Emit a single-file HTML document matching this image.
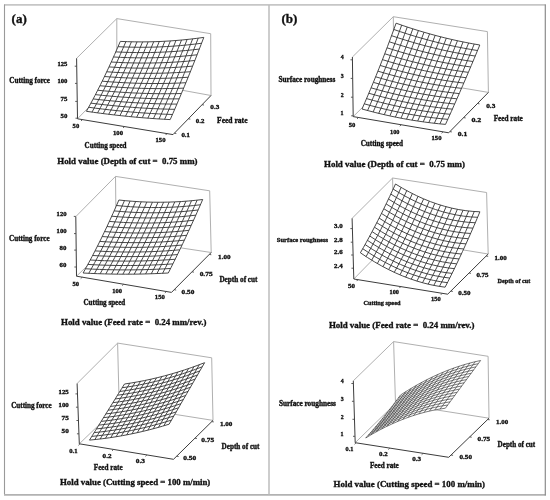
<!DOCTYPE html>
<html><head><meta charset="utf-8"><title>Figure</title>
<style>
html,body{margin:0;padding:0;background:#fff;}
body{width:550px;height:500px;overflow:hidden;position:relative;}
svg{position:absolute;left:0;top:0;display:block;}
text{font-family:"Liberation Serif","DejaVu Serif",serif;font-weight:bold;fill:#111;stroke:#111;stroke-width:0.34px;}
</style></head><body>
<svg width="550" height="500" viewBox="0 0 550 500">
<rect x="0" y="0" width="550" height="500" fill="#fff"/>
<path d="M4 4.9 L545.8 4.9" fill="none" stroke="#c6c6c6" stroke-width="1.6"/>
<path d="M4.5 4.4 L4.5 494.5" fill="none" stroke="#9a9a9a" stroke-width="1.1"/>
<path d="M4 494.9 L545.8 494.9" fill="none" stroke="#b2b2b2" stroke-width="1.6"/>
<path d="M545.3 4.4 L545.3 495.4" fill="none" stroke="#8c8c8c" stroke-width="1.2"/>
<path d="M269 5 L269 494.5" fill="none" stroke="#bdbdbd" stroke-width="1.5"/>
<path d="M76.60 58.30 L116.80 18.60 M116.80 18.60 L210.70 33.70 M210.70 33.70 L211.00 95.50 M116.80 18.60 L116.80 78.30 M116.80 78.30 L211.00 95.50 M116.80 78.30 L77.50 118.80" fill="none" stroke="#b0b0b0" stroke-width="1"/><path d="M211.00 95.50 L173.00 134.60 M173.00 134.60 L77.50 118.80 M77.50 118.80 L76.60 58.30" fill="none" stroke="#3c3c3c" stroke-width="1"/><path d="M74.72 66.20 L76.72 66.20 M74.97 83.40 L76.97 83.40 M75.24 101.40 L77.24 101.40 M75.49 118.20 L77.49 118.20 M82.40 119.61 L81.01 121.05 M124.50 126.58 L123.11 128.01 M167.00 133.61 L165.61 135.04 M174.36 133.20 L176.33 133.53 M188.36 118.80 L190.33 119.13 M202.06 104.70 L204.03 105.03" fill="none" stroke="#4a4a4a" stroke-width="0.9"/>
<path d="M86.40 111.30 L93.38 112.30 L100.37 113.24 L107.35 114.12 L114.33 114.96 L121.32 115.73 L128.30 116.45 L135.28 117.11 L142.27 117.72 L149.25 118.27 L156.23 118.77 L163.22 119.21 L170.20 119.60 L173.00 113.21 L175.80 106.73 L178.60 100.17 L181.40 93.53 L184.20 86.81 L187.00 80.00 L189.80 73.11 L192.60 66.13 L195.40 59.08 L198.20 51.93 L201.00 44.71 L203.80 37.40 L196.84 38.34 L189.88 39.18 L182.93 39.90 L175.97 40.51 L169.01 41.01 L162.05 41.40 L155.09 41.68 L148.13 41.84 L141.18 41.90 L134.22 41.84 L127.26 41.68 L120.30 41.40 L117.47 47.99 L114.65 54.44 L111.82 60.75 L109.00 66.92 L106.17 72.96 L103.35 78.85 L100.53 84.61 L97.70 90.22 L94.88 95.70 L92.05 101.04 L89.23 106.24Z" fill="#fff" stroke="none"/><path d="M86.40 111.30 L89.22 106.24 L92.05 101.04 L94.88 95.70 L97.70 90.22 L100.53 84.61 L103.35 78.85 L106.17 72.96 L109.00 66.92 L111.82 60.75 L114.65 54.44 L117.47 47.99 L120.30 41.40 M86.40 111.30 L93.38 112.30 L100.37 113.24 L107.35 114.12 L114.33 114.96 L121.32 115.73 L128.30 116.45 L135.28 117.11 L142.27 117.72 L149.25 118.27 L156.23 118.77 L163.22 119.21 L170.20 119.60 M91.99 112.10 L94.81 106.97 L97.63 101.71 L100.46 96.31 L103.28 90.77 L106.10 85.10 L108.93 79.30 L111.75 73.36 L114.57 67.28 L117.40 61.07 L120.22 54.73 L123.04 48.25 L125.87 41.63 M88.66 107.26 L95.64 108.19 L102.62 109.06 L109.60 109.87 L116.59 110.62 L123.57 111.31 L130.55 111.94 L137.53 112.52 L144.51 113.03 L151.49 113.49 L158.48 113.88 L165.46 114.22 L172.44 114.49 M97.57 112.87 L100.40 107.67 L103.22 102.34 L106.04 96.87 L108.86 91.28 L111.68 85.55 L114.50 79.70 L117.33 73.71 L120.15 67.59 L122.97 61.34 L125.79 54.95 L128.61 48.44 L131.43 41.79 M90.92 103.14 L97.90 104.00 L104.88 104.80 L111.86 105.53 L118.84 106.21 L125.82 106.82 L132.80 107.37 L139.78 107.85 L146.76 108.27 L153.74 108.63 L160.72 108.93 L167.70 109.16 L174.68 109.33 M103.16 113.60 L105.98 108.33 L108.80 102.92 L111.62 97.39 L114.44 91.74 L117.26 85.95 L120.08 80.04 L122.90 74.00 L125.72 67.83 L128.54 61.54 L131.36 55.11 L134.18 48.56 L137.00 41.88 M93.18 98.92 L100.16 99.72 L107.14 100.45 L114.12 101.12 L121.09 101.72 L128.07 102.25 L135.05 102.72 L142.03 103.12 L149.01 103.45 L155.99 103.72 L162.96 103.92 L169.94 104.05 L176.92 104.12 M108.75 114.30 L111.56 108.94 L114.38 103.47 L117.20 97.87 L120.02 92.15 L122.84 86.30 L125.66 80.33 L128.48 74.23 L131.29 68.02 L134.11 61.67 L136.93 55.20 L139.75 48.61 L142.57 41.90 M95.44 94.62 L102.42 95.36 L109.39 96.03 L116.37 96.62 L123.35 97.15 L130.32 97.61 L137.30 98.00 L144.28 98.32 L151.25 98.57 L158.23 98.74 L165.21 98.85 L172.18 98.89 L179.16 98.85 M114.33 114.96 L117.15 109.52 L119.97 103.97 L122.78 98.30 L125.60 92.51 L128.42 86.60 L131.23 80.57 L134.05 74.41 L136.87 68.14 L139.68 61.75 L142.50 55.23 L145.32 48.60 L148.13 41.84 M97.70 90.22 L104.67 90.91 L111.65 91.51 L118.62 92.05 L125.60 92.51 L132.58 92.90 L139.55 93.21 L146.52 93.45 L153.50 93.61 L160.47 93.71 L167.45 93.72 L174.42 93.66 L181.40 93.53 M119.92 115.58 L122.73 110.07 L125.55 104.44 L128.36 98.69 L131.18 92.83 L133.99 86.85 L136.81 80.75 L139.62 74.54 L142.44 68.21 L145.25 61.76 L148.07 55.20 L150.88 48.52 L153.70 41.72 M99.96 85.74 L106.93 86.37 L113.91 86.92 L120.88 87.39 L127.85 87.79 L134.83 88.11 L141.80 88.35 L148.77 88.51 L155.75 88.60 L162.72 88.60 L169.69 88.53 L176.67 88.39 L183.64 88.16 M125.51 116.17 L128.32 110.57 L131.13 104.86 L133.95 99.03 L136.76 93.09 L139.57 87.04 L142.39 80.88 L145.20 74.60 L148.01 68.21 L150.83 61.71 L153.64 55.09 L156.45 48.37 L159.27 41.52 M102.22 81.17 L109.19 81.75 L116.16 82.24 L123.13 82.66 L130.11 82.99 L137.08 83.25 L144.05 83.42 L151.02 83.51 L157.99 83.52 L164.97 83.44 L171.94 83.29 L178.91 83.05 L185.88 82.73 M131.09 116.72 L133.91 111.03 L136.72 105.24 L139.53 99.33 L142.34 93.32 L145.15 87.19 L147.96 80.96 L150.78 74.61 L153.59 68.16 L156.40 61.60 L159.21 54.93 L162.02 48.15 L164.83 41.26 M104.48 76.51 L111.45 77.04 L118.42 77.48 L125.39 77.84 L132.36 78.12 L139.33 78.31 L146.30 78.41 L153.27 78.43 L160.24 78.37 L167.21 78.22 L174.18 77.98 L181.15 77.66 L188.12 77.25 M136.68 117.24 L139.49 111.46 L142.30 105.58 L145.11 99.58 L147.92 93.49 L150.73 87.29 L153.54 80.98 L156.35 74.57 L159.16 68.05 L161.97 61.42 L164.78 54.70 L167.59 47.86 L170.40 40.92 M106.74 71.76 L113.71 72.25 L120.68 72.64 L127.64 72.95 L134.61 73.17 L141.58 73.30 L148.55 73.34 L155.52 73.29 L162.49 73.16 L169.45 72.93 L176.42 72.62 L183.39 72.21 L190.36 71.72 M142.27 117.72 L145.07 111.85 L147.88 105.87 L150.69 99.79 L153.50 93.61 L156.31 87.33 L159.12 80.95 L161.93 74.46 L164.73 67.88 L167.54 61.19 L170.35 54.40 L173.16 47.51 L175.97 40.51 M109.00 66.92 L115.97 67.37 L122.93 67.72 L129.90 67.97 L136.87 68.14 L143.83 68.21 L150.80 68.19 L157.77 68.08 L164.73 67.88 L171.70 67.58 L178.67 67.19 L185.63 66.71 L192.60 66.13 M147.85 118.17 L150.66 112.20 L153.47 106.13 L156.27 99.96 L159.08 93.69 L161.89 87.33 L164.69 80.87 L167.50 74.31 L170.31 67.65 L173.11 60.89 L175.92 54.04 L178.73 47.08 L181.53 40.03 M111.26 62.00 L118.22 62.40 L125.19 62.71 L132.16 62.92 L139.12 63.04 L146.08 63.05 L153.05 62.98 L160.01 62.80 L166.98 62.53 L173.94 62.17 L180.91 61.71 L187.87 61.15 L194.84 60.49 M153.44 118.58 L156.25 112.51 L159.05 106.34 L161.85 100.08 L164.66 93.72 L167.47 87.27 L170.27 80.73 L173.08 74.09 L175.88 67.36 L178.69 60.53 L181.49 53.61 L184.30 46.59 L187.10 39.48 M113.52 56.98 L120.48 57.35 L127.45 57.62 L134.41 57.78 L141.37 57.85 L148.34 57.82 L155.30 57.69 L162.26 57.46 L169.23 57.13 L176.19 56.69 L183.15 56.16 L190.12 55.53 L197.08 54.80 M159.03 118.96 L161.83 112.78 L164.63 106.51 L167.44 100.16 L170.24 93.71 L173.04 87.17 L175.85 80.54 L178.65 73.82 L181.45 67.01 L184.26 60.11 L187.06 53.11 L189.86 46.03 L192.67 38.86 M115.78 51.88 L122.74 52.21 L129.70 52.44 L136.67 52.57 L143.63 52.59 L150.59 52.51 L157.55 52.33 L164.51 52.04 L171.47 51.65 L178.44 51.16 L185.40 50.56 L192.36 49.86 L199.32 49.05 M164.61 119.30 L167.41 113.01 L170.22 106.64 L173.02 100.19 L175.82 93.64 L178.62 87.01 L181.42 80.30 L184.23 73.49 L187.03 66.60 L189.83 59.62 L192.63 52.56 L195.43 45.40 L198.23 38.16 M118.04 46.68 L125.00 46.99 L131.96 47.18 L138.92 47.27 L145.88 47.26 L152.84 47.13 L159.80 46.90 L166.76 46.56 L173.72 46.11 L180.68 45.56 L187.64 44.90 L194.60 44.13 L201.56 43.25 M170.20 119.60 L173.00 113.21 L175.80 106.73 L178.60 100.17 L181.40 93.53 L184.20 86.81 L187.00 80.00 L189.80 73.11 L192.60 66.13 L195.40 59.08 L198.20 51.93 L201.00 44.71 L203.80 37.40 M120.30 41.40 L127.26 41.68 L134.22 41.84 L141.18 41.90 L148.13 41.84 L155.09 41.68 L162.05 41.40 L169.01 41.01 L175.97 40.51 L182.93 39.90 L189.88 39.18 L196.84 38.34 L203.80 37.40" fill="none" stroke="#333333" stroke-width="0.9"/>
<text x="11.60" y="22.96" font-size="13.2" textLength="15.20" lengthAdjust="spacingAndGlyphs">(a)</text>
<text x="57.40" y="65.81" font-size="6.7" textLength="10.00" lengthAdjust="spacingAndGlyphs">125</text>
<text x="57.40" y="83.01" font-size="6.7" textLength="10.00" lengthAdjust="spacingAndGlyphs">100</text>
<text x="60.60" y="101.01" font-size="6.7" textLength="6.80" lengthAdjust="spacingAndGlyphs">75</text>
<text x="60.60" y="117.81" font-size="6.7" textLength="6.80" lengthAdjust="spacingAndGlyphs">50</text>
<text x="9.30" y="83.21" font-size="7.3" textLength="40.70" lengthAdjust="spacingAndGlyphs">Cutting force</text>
<text x="72.60" y="127.91" font-size="6.7" textLength="6.60" lengthAdjust="spacingAndGlyphs">50</text>
<text x="113.00" y="135.41" font-size="6.7" textLength="10.00" lengthAdjust="spacingAndGlyphs">100</text>
<text x="155.50" y="141.51" font-size="6.7" textLength="10.00" lengthAdjust="spacingAndGlyphs">150</text>
<text x="84.60" y="147.81" font-size="7.3" textLength="41.90" lengthAdjust="spacingAndGlyphs">Cutting speed</text>
<text x="181.40" y="137.41" font-size="6.7" textLength="8.60" lengthAdjust="spacingAndGlyphs">0.1</text>
<text x="195.80" y="123.01" font-size="6.7" textLength="8.60" lengthAdjust="spacingAndGlyphs">0.2</text>
<text x="210.30" y="108.91" font-size="6.7" textLength="9.00" lengthAdjust="spacingAndGlyphs">0.3</text>
<text x="217.00" y="122.81" font-size="7.3" textLength="30.50" lengthAdjust="spacingAndGlyphs">Feed rate</text>
<text x="57.30" y="163.54" font-size="8.9" textLength="140.20" lengthAdjust="spacingAndGlyphs">Hold value (Depth of cut =&#160; 0.75 mm)</text>
<path d="M75.80 216.60 L115.50 176.40 M115.50 176.40 L209.70 190.80 M209.70 190.80 L211.20 252.50 M115.50 176.40 L116.20 238.00 M116.20 238.00 L211.20 252.50 M116.20 238.00 L76.50 276.20" fill="none" stroke="#b0b0b0" stroke-width="1"/><path d="M211.20 252.50 L171.50 292.40 M171.50 292.40 L76.50 276.20 M76.50 276.20 L75.80 216.60" fill="none" stroke="#3c3c3c" stroke-width="1"/><path d="M73.80 216.40 L75.80 216.40 M74.00 233.60 L76.00 233.60 M74.19 250.10 L76.19 250.10 M74.39 267.00 L76.39 267.00 M82.20 277.17 L80.76 278.56 M123.60 284.23 L122.16 285.62 M166.30 291.51 L164.86 292.90 M174.19 289.70 L176.16 290.04 M192.00 271.80 L193.97 272.14 M209.31 254.40 L211.28 254.74" fill="none" stroke="#4a4a4a" stroke-width="0.9"/>
<path d="M83.10 273.00 L90.20 273.37 L97.30 273.67 L104.40 273.90 L111.50 274.07 L118.60 274.17 L125.70 274.20 L132.80 274.17 L139.90 274.07 L147.00 273.90 L154.10 273.67 L161.20 273.37 L168.30 273.00 L171.17 267.33 L174.03 261.58 L176.90 255.75 L179.77 249.83 L182.63 243.83 L185.50 237.75 L188.37 231.58 L191.23 225.33 L194.10 219.00 L196.97 212.58 L199.83 206.08 L202.70 199.50 L195.72 200.31 L188.73 200.97 L181.75 201.50 L174.77 201.89 L167.78 202.14 L160.80 202.25 L153.82 202.22 L146.83 202.06 L139.85 201.75 L132.87 201.31 L125.88 200.72 L118.90 200.00 L115.92 206.85 L112.93 213.56 L109.95 220.12 L106.97 226.56 L103.98 232.85 L101.00 239.00 L98.02 245.01 L95.03 250.89 L92.05 256.62 L89.07 262.22 L86.08 267.68Z" fill="#fff" stroke="none"/><path d="M83.10 273.00 L86.08 267.68 L89.07 262.22 L92.05 256.62 L95.03 250.89 L98.02 245.01 L101.00 239.00 L103.98 232.85 L106.97 226.56 L109.95 220.12 L112.93 213.56 L115.92 206.85 L118.90 200.00 M83.10 273.00 L90.20 273.37 L97.30 273.67 L104.40 273.90 L111.50 274.07 L118.60 274.17 L125.70 274.20 L132.80 274.17 L139.90 274.07 L147.00 273.90 L154.10 273.67 L161.20 273.37 L168.30 273.00 M88.78 273.30 L91.76 267.98 L94.73 262.53 L97.71 256.95 L100.68 251.23 L103.66 245.37 L106.63 239.38 L109.61 233.25 L112.58 226.99 L115.56 220.59 L118.54 214.06 L121.51 207.39 L124.49 200.59 M85.49 268.76 L92.58 269.13 L99.67 269.42 L106.76 269.65 L113.86 269.81 L120.95 269.89 L128.04 269.90 L135.13 269.84 L142.22 269.71 L149.32 269.51 L156.41 269.24 L163.50 268.89 L170.59 268.47 M94.46 273.55 L97.43 268.24 L100.40 262.79 L103.36 257.21 L106.33 251.50 L109.30 245.66 L112.27 239.69 L115.23 233.58 L118.20 227.35 L121.17 220.98 L124.14 214.48 L127.11 207.85 L130.07 201.09 M87.87 264.42 L94.96 264.80 L102.04 265.10 L109.13 265.32 L116.21 265.47 L123.30 265.54 L130.38 265.53 L137.46 265.45 L144.55 265.29 L151.63 265.06 L158.72 264.74 L165.80 264.36 L172.89 263.89 M100.14 273.77 L103.10 268.45 L106.06 263.00 L109.02 257.43 L111.98 251.72 L114.94 245.89 L117.90 239.93 L120.86 233.85 L123.82 227.63 L126.78 221.29 L129.74 214.82 L132.70 208.23 L135.66 201.50 M90.26 260.00 L97.34 260.38 L104.41 260.69 L111.49 260.91 L118.57 261.05 L125.64 261.11 L132.72 261.09 L139.80 260.99 L146.87 260.80 L153.95 260.54 L161.03 260.19 L168.10 259.77 L175.18 259.26 M105.82 273.94 L108.77 268.61 L111.72 263.16 L114.68 257.58 L117.63 251.89 L120.58 246.06 L123.53 240.11 L126.49 234.04 L129.44 227.85 L132.39 221.53 L135.34 215.08 L138.29 208.51 L141.25 201.82 M92.65 255.49 L99.72 255.89 L106.78 256.20 L113.85 256.42 L120.92 256.56 L127.99 256.61 L135.06 256.58 L142.13 256.46 L149.20 256.25 L156.27 255.96 L163.34 255.59 L170.40 255.12 L177.47 254.57 M111.50 274.07 L114.44 268.73 L117.39 263.27 L120.33 257.69 L123.28 251.99 L126.22 246.17 L129.17 240.23 L132.11 234.17 L135.06 227.99 L138.00 221.68 L140.94 215.26 L143.89 208.72 L146.83 202.06 M95.03 250.89 L102.09 251.30 L109.16 251.62 L116.22 251.85 L123.28 251.99 L130.34 252.04 L137.40 251.99 L144.46 251.86 L151.52 251.64 L158.58 251.32 L165.64 250.92 L172.71 250.42 L179.77 249.83 M117.18 274.15 L120.12 268.80 L123.05 263.33 L125.99 257.74 L128.93 252.03 L131.86 246.21 L134.80 240.28 L137.74 234.22 L140.67 228.05 L143.61 221.76 L146.55 215.36 L149.48 208.84 L152.42 202.20 M97.42 246.20 L104.47 246.63 L111.53 246.96 L118.58 247.20 L125.63 247.34 L132.69 247.39 L139.74 247.34 L146.79 247.20 L153.85 246.96 L160.90 246.62 L167.95 246.19 L175.01 245.66 L182.06 245.04 M122.86 274.19 L125.79 268.82 L128.72 263.33 L131.65 257.73 L134.58 252.02 L137.50 246.20 L140.43 240.26 L143.36 234.21 L146.29 228.04 L149.22 221.77 L152.15 215.38 L155.08 208.87 L158.01 202.26 M99.81 241.42 L106.85 241.87 L113.90 242.22 L120.94 242.47 L127.99 242.62 L135.03 242.67 L142.08 242.61 L149.13 242.46 L156.17 242.21 L163.22 241.86 L170.26 241.40 L177.31 240.85 L184.35 240.19 M128.54 274.19 L131.46 268.80 L134.38 263.29 L137.30 257.68 L140.22 251.95 L143.15 246.12 L146.07 240.18 L148.99 234.12 L151.91 227.96 L154.83 221.69 L157.75 215.31 L160.67 208.82 L163.59 202.22 M102.19 236.56 L109.23 237.03 L116.27 237.40 L123.31 237.66 L130.34 237.82 L137.38 237.87 L144.42 237.82 L151.46 237.66 L158.50 237.40 L165.53 237.03 L172.57 236.56 L179.61 235.98 L186.65 235.29 M134.22 274.15 L137.13 268.73 L140.05 263.20 L142.96 257.56 L145.87 251.82 L148.79 245.98 L151.70 240.03 L154.61 233.97 L157.53 227.81 L160.44 221.54 L163.35 215.16 L166.27 208.68 L169.18 202.10 M104.58 231.60 L111.61 232.10 L118.64 232.49 L125.67 232.77 L132.70 232.94 L139.73 233.00 L146.76 232.95 L153.79 232.79 L160.82 232.52 L167.85 232.14 L174.88 231.65 L181.91 231.05 L188.94 230.34 M139.90 274.07 L142.81 268.61 L145.71 263.06 L148.62 257.40 L151.52 251.64 L154.43 245.77 L157.33 239.81 L160.24 233.75 L163.14 227.58 L166.05 221.31 L168.96 214.94 L171.86 208.46 L174.77 201.89 M106.97 226.56 L113.99 227.09 L121.01 227.50 L128.03 227.80 L135.06 227.99 L142.08 228.06 L149.10 228.01 L156.12 227.85 L163.14 227.58 L170.17 227.19 L177.19 226.69 L184.21 226.07 L191.23 225.33 M145.58 273.94 L148.48 268.45 L151.38 262.86 L154.27 257.18 L157.17 251.39 L160.07 245.51 L162.97 239.53 L165.86 233.45 L168.76 227.28 L171.66 221.00 L174.56 214.63 L177.46 208.16 L180.35 201.59 M109.35 221.42 L116.37 221.98 L123.38 222.43 L130.40 222.75 L137.41 222.95 L144.43 223.04 L151.44 223.00 L158.45 222.85 L165.47 222.57 L172.48 222.18 L179.50 221.66 L186.51 221.03 L193.53 220.27 M151.26 273.77 L154.15 268.24 L157.04 262.62 L159.93 256.90 L162.82 251.09 L165.71 245.18 L168.60 239.18 L171.49 233.09 L174.38 226.90 L177.27 220.62 L180.16 214.24 L183.05 207.77 L185.94 201.20 M111.74 216.20 L118.75 216.80 L125.75 217.27 L132.76 217.62 L139.77 217.84 L146.77 217.94 L153.78 217.92 L160.79 217.77 L167.79 217.50 L174.80 217.10 L181.81 216.58 L188.81 215.93 L195.82 215.16 M156.94 273.55 L159.82 267.98 L162.70 262.32 L165.59 256.57 L168.47 250.73 L171.35 244.80 L174.23 238.77 L177.12 232.66 L180.00 226.45 L182.88 220.16 L185.76 213.77 L188.64 207.29 L191.53 200.72 M114.13 210.89 L121.13 211.53 L128.12 212.03 L135.12 212.41 L142.12 212.66 L149.12 212.78 L156.12 212.77 L163.12 212.63 L170.12 212.36 L177.12 211.96 L184.12 211.44 L191.11 210.78 L198.11 209.99 M162.62 273.30 L165.49 267.68 L168.37 261.98 L171.24 256.19 L174.12 250.31 L176.99 244.35 L179.87 238.29 L182.74 232.16 L185.62 225.93 L188.49 219.62 L191.36 213.22 L194.24 206.73 L197.11 200.16 M116.51 205.49 L123.50 206.17 L130.50 206.71 L137.49 207.12 L144.48 207.40 L151.47 207.54 L158.46 207.54 L165.45 207.42 L172.44 207.16 L179.43 206.76 L186.42 206.23 L193.42 205.57 L200.41 204.77 M168.30 273.00 L171.17 267.33 L174.03 261.58 L176.90 255.75 L179.77 249.83 L182.63 243.83 L185.50 237.75 L188.37 231.58 L191.23 225.33 L194.10 219.00 L196.97 212.58 L199.83 206.08 L202.70 199.50 M118.90 200.00 L125.88 200.72 L132.87 201.31 L139.85 201.75 L146.83 202.06 L153.82 202.22 L160.80 202.25 L167.78 202.14 L174.77 201.89 L181.75 201.50 L188.73 200.97 L195.72 200.31 L202.70 199.50" fill="none" stroke="#333333" stroke-width="0.9"/>
<text x="56.60" y="216.01" font-size="6.7" textLength="10.00" lengthAdjust="spacingAndGlyphs">120</text>
<text x="56.60" y="233.21" font-size="6.7" textLength="10.00" lengthAdjust="spacingAndGlyphs">100</text>
<text x="59.60" y="249.71" font-size="6.7" textLength="6.80" lengthAdjust="spacingAndGlyphs">80</text>
<text x="59.60" y="266.61" font-size="6.7" textLength="6.80" lengthAdjust="spacingAndGlyphs">60</text>
<text x="9.00" y="240.91" font-size="7.3" textLength="40.60" lengthAdjust="spacingAndGlyphs">Cutting force</text>
<text x="72.40" y="286.01" font-size="6.7" textLength="6.60" lengthAdjust="spacingAndGlyphs">50</text>
<text x="112.20" y="292.61" font-size="6.7" textLength="9.80" lengthAdjust="spacingAndGlyphs">100</text>
<text x="154.80" y="298.91" font-size="6.7" textLength="10.00" lengthAdjust="spacingAndGlyphs">150</text>
<text x="83.50" y="305.21" font-size="7.3" textLength="41.80" lengthAdjust="spacingAndGlyphs">Cutting speed</text>
<text x="181.60" y="293.91" font-size="6.7" textLength="12.70" lengthAdjust="spacingAndGlyphs">0.50</text>
<text x="199.70" y="276.01" font-size="6.7" textLength="12.90" lengthAdjust="spacingAndGlyphs">0.75</text>
<text x="218.10" y="258.61" font-size="6.7" textLength="12.40" lengthAdjust="spacingAndGlyphs">1.00</text>
<text x="219.40" y="281.61" font-size="7.3" textLength="38.10" lengthAdjust="spacingAndGlyphs">Depth of cut</text>
<text x="61.00" y="324.94" font-size="8.9" textLength="145.40" lengthAdjust="spacingAndGlyphs">Hold value (Feed rate =&#160; 0.24 mm/rev.)</text>
<path d="M77.10 383.50 L117.60 343.10 M117.60 343.10 L211.70 357.80 M211.70 357.80 L213.00 420.40 M117.60 343.10 L119.20 405.50 M119.20 405.50 L213.00 420.40 M119.20 405.50 L79.30 443.80" fill="none" stroke="#b0b0b0" stroke-width="1"/><path d="M213.00 420.40 L173.50 459.30 M173.50 459.30 L79.30 443.80 M79.30 443.80 L77.10 383.50" fill="none" stroke="#3c3c3c" stroke-width="1"/><path d="M75.48 393.90 L77.48 393.90 M75.96 407.20 L77.96 407.20 M76.45 420.50 L78.45 420.50 M76.94 433.80 L78.94 433.80 M79.90 443.90 L78.46 445.28 M113.55 449.44 L112.11 450.82 M146.90 454.92 L145.46 456.31 M176.65 456.20 L178.62 456.52 M194.93 438.20 L196.90 438.52 M211.78 421.60 L213.75 421.92" fill="none" stroke="#4a4a4a" stroke-width="0.9"/>
<path d="M89.50 440.10 L96.13 439.45 L102.77 438.67 L109.40 437.77 L116.03 436.76 L122.67 435.61 L129.30 434.35 L135.93 432.96 L142.57 431.46 L149.20 429.82 L155.83 428.07 L162.47 426.20 L169.10 424.20 L172.06 419.08 L175.02 413.95 L177.97 408.82 L180.93 403.70 L183.89 398.57 L186.85 393.45 L189.81 388.32 L192.77 383.20 L195.72 378.07 L198.68 372.95 L201.64 367.83 L204.60 362.70 L197.92 365.24 L191.25 367.64 L184.57 369.90 L177.90 372.02 L171.22 374.01 L164.55 375.85 L157.88 377.56 L151.20 379.12 L144.53 380.55 L137.85 381.84 L131.18 382.99 L124.50 384.00 L121.58 388.68 L118.67 393.35 L115.75 398.03 L112.83 402.70 L109.92 407.38 L107.00 412.05 L104.08 416.73 L101.17 421.40 L98.25 426.08 L95.33 430.75 L92.42 435.43Z" fill="#fff" stroke="none"/><path d="M89.50 440.10 L92.42 435.43 L95.33 430.75 L98.25 426.08 L101.17 421.40 L104.08 416.72 L107.00 412.05 L109.92 407.38 L112.83 402.70 L115.75 398.03 L118.67 393.35 L121.58 388.68 L124.50 384.00 M89.50 440.10 L96.13 439.45 L102.77 438.67 L109.40 437.77 L116.03 436.76 L122.67 435.61 L129.30 434.35 L135.93 432.96 L142.57 431.46 L149.20 429.82 L155.83 428.07 L162.47 426.20 L169.10 424.20 M94.81 439.59 L97.73 434.89 L100.65 430.19 L103.56 425.49 L106.48 420.79 L109.40 416.09 L112.32 411.39 L115.24 406.70 L118.16 402.00 L121.08 397.30 L124.00 392.60 L126.92 387.90 L129.84 383.20 M91.83 436.36 L98.47 435.68 L105.11 434.88 L111.74 433.96 L118.38 432.91 L125.01 431.74 L131.65 430.45 L138.29 429.03 L144.92 427.49 L151.56 425.83 L158.19 424.04 L164.83 422.13 L171.47 420.10 M100.11 439.00 L103.04 434.27 L105.96 429.55 L108.88 424.83 L111.80 420.10 L114.72 415.38 L117.65 410.66 L120.57 405.93 L123.49 401.21 L126.41 396.49 L129.34 391.76 L132.26 387.04 L135.18 382.32 M94.17 432.62 L100.81 431.92 L107.44 431.09 L114.08 430.14 L120.72 429.07 L127.36 427.87 L134.00 426.55 L140.64 425.10 L147.28 423.53 L153.92 421.83 L160.56 420.01 L167.19 418.07 L173.83 416.00 M105.42 438.33 L108.34 433.58 L111.27 428.83 L114.20 424.08 L117.12 419.33 L120.05 414.58 L122.97 409.83 L125.90 405.09 L128.82 400.34 L131.75 395.59 L134.67 390.84 L137.60 386.09 L140.52 381.34 M96.50 428.88 L103.14 428.16 L109.78 427.31 L116.43 426.33 L123.07 425.23 L129.71 424.00 L136.35 422.65 L142.99 421.17 L149.63 419.57 L156.28 417.84 L162.92 415.99 L169.56 414.01 L176.20 411.90 M110.73 437.58 L113.65 432.81 L116.58 428.03 L119.51 423.25 L122.44 418.48 L125.37 413.70 L128.29 408.93 L131.22 404.15 L134.15 399.38 L137.08 394.60 L140.00 389.83 L142.93 385.05 L145.86 380.28 M98.83 425.14 L105.48 424.39 L112.12 423.52 L118.77 422.52 L125.41 421.39 L132.06 420.13 L138.70 418.75 L145.34 417.24 L151.99 415.61 L158.63 413.85 L165.28 411.96 L171.92 409.94 L178.57 407.80 M116.03 436.76 L118.96 431.95 L121.89 427.15 L124.83 422.35 L127.76 417.54 L130.69 412.74 L133.62 407.94 L136.55 403.14 L139.48 398.33 L142.41 393.53 L145.34 388.73 L148.27 383.93 L151.20 379.12 M101.17 421.40 L107.81 420.63 L114.46 419.73 L121.11 418.70 L127.76 417.54 L134.40 416.26 L141.05 414.85 L147.70 413.31 L154.34 411.64 L160.99 409.85 L167.64 407.93 L174.29 405.88 L180.93 403.70 M121.34 435.85 L124.27 431.02 L127.21 426.19 L130.14 421.36 L133.07 416.53 L136.01 411.70 L138.94 406.87 L141.87 402.03 L144.81 397.20 L147.74 392.37 L150.67 387.54 L153.61 382.71 L156.54 377.88 M103.50 417.66 L110.15 416.86 L116.80 415.94 L123.45 414.88 L130.10 413.70 L136.75 412.39 L143.40 410.95 L150.05 409.38 L156.70 407.68 L163.35 405.85 L170.00 403.90 L176.65 401.81 L183.30 399.60 M126.65 434.87 L129.58 430.01 L132.52 425.15 L135.46 420.29 L138.39 415.43 L141.33 410.57 L144.26 405.71 L147.20 400.85 L150.14 395.99 L153.07 391.13 L156.01 386.27 L158.94 381.41 L161.88 376.55 M105.83 413.92 L112.49 413.10 L119.14 412.15 L125.79 411.07 L132.44 409.86 L139.10 408.52 L145.75 407.05 L152.40 405.45 L159.06 403.72 L165.71 401.86 L172.36 399.87 L179.01 397.75 L185.67 395.50 M131.95 433.81 L134.89 428.92 L137.83 424.03 L140.77 419.14 L143.71 414.25 L146.65 409.36 L149.59 404.47 L152.53 399.58 L155.46 394.69 L158.40 389.80 L161.34 384.91 L164.28 380.02 L167.22 375.13 M108.17 410.18 L114.82 409.34 L121.48 408.36 L128.13 407.25 L134.79 406.02 L141.44 404.65 L148.10 403.15 L154.76 401.52 L161.41 399.76 L168.07 397.86 L174.72 395.84 L181.38 393.69 L188.03 391.40 M137.26 432.67 L140.20 427.75 L143.14 422.83 L146.08 417.91 L149.03 412.99 L151.97 408.07 L154.91 403.15 L157.85 398.22 L160.79 393.30 L163.74 388.38 L166.68 383.46 L169.62 378.54 L172.56 373.62 M110.50 406.44 L117.16 405.57 L123.82 404.57 L130.47 403.44 L137.13 402.18 L143.79 400.78 L150.45 399.25 L157.11 397.59 L163.77 395.80 L170.43 393.87 L177.08 391.81 L183.74 389.62 L190.40 387.30 M142.57 431.46 L145.51 426.50 L148.46 421.55 L151.40 416.60 L154.34 411.64 L157.29 406.69 L160.23 401.74 L163.18 396.79 L166.12 391.83 L169.07 386.88 L172.01 381.93 L174.96 376.97 L177.90 372.02 M112.83 402.70 L119.49 401.81 L126.16 400.78 L132.82 399.62 L139.48 398.33 L146.14 396.91 L152.80 395.35 L159.46 393.66 L166.12 391.83 L172.78 389.87 L179.44 387.78 L186.11 385.56 L192.77 383.20 M147.87 430.16 L150.82 425.18 L153.77 420.19 L156.72 415.20 L159.66 410.22 L162.61 405.23 L165.56 400.25 L168.50 395.26 L171.45 390.28 L174.40 385.29 L177.35 380.31 L180.29 375.32 L183.24 370.34 M115.17 398.96 L121.83 398.04 L128.49 396.99 L135.16 395.81 L141.82 394.49 L148.49 393.04 L155.15 391.45 L161.81 389.73 L168.48 387.87 L175.14 385.88 L181.81 383.75 L188.47 381.49 L195.13 379.10 M153.18 428.79 L156.13 423.77 L159.08 418.75 L162.03 413.73 L164.98 408.71 L167.93 403.69 L170.88 398.67 L173.83 393.65 L176.78 388.64 L179.73 383.62 L182.68 378.60 L185.63 373.58 L188.58 368.56 M117.50 395.22 L124.17 394.28 L130.83 393.21 L137.50 392.00 L144.17 390.65 L150.83 389.17 L157.50 387.55 L164.17 385.80 L170.83 383.91 L177.50 381.88 L184.17 379.73 L190.83 377.43 L197.50 375.00 M158.49 427.34 L161.44 422.28 L164.39 417.23 L167.34 412.18 L170.30 407.12 L173.25 402.07 L176.20 397.02 L179.16 391.96 L182.11 386.91 L185.06 381.86 L188.01 376.80 L190.97 371.75 L193.92 366.70 M119.83 391.48 L126.50 390.52 L133.17 389.42 L139.84 388.18 L146.51 386.81 L153.18 385.30 L159.85 383.65 L166.52 381.87 L173.19 379.95 L179.86 377.89 L186.53 375.70 L193.20 373.37 L199.87 370.90 M163.79 425.81 L166.75 420.72 L169.70 415.63 L172.66 410.54 L175.62 405.45 L178.57 400.36 L181.53 395.27 L184.48 390.19 L187.44 385.10 L190.39 380.01 L193.35 374.92 L196.30 369.83 L199.26 364.74 M122.17 387.74 L128.84 386.75 L135.51 385.63 L142.18 384.37 L148.86 382.96 L155.53 381.43 L162.20 379.75 L168.87 377.94 L175.54 375.98 L182.22 373.89 L188.89 371.67 L195.56 369.30 L202.23 366.80 M169.10 424.20 L172.06 419.08 L175.02 413.95 L177.97 408.82 L180.93 403.70 L183.89 398.57 L186.85 393.45 L189.81 388.32 L192.77 383.20 L195.72 378.07 L198.68 372.95 L201.64 367.83 L204.60 362.70 M124.50 384.00 L131.18 382.99 L137.85 381.84 L144.53 380.55 L151.20 379.12 L157.88 377.56 L164.55 375.85 L171.22 374.01 L177.90 372.02 L184.57 369.90 L191.25 367.64 L197.92 365.24 L204.60 362.70" fill="none" stroke="#333333" stroke-width="0.9"/>
<text x="58.50" y="393.51" font-size="6.7" textLength="10.30" lengthAdjust="spacingAndGlyphs">125</text>
<text x="58.50" y="406.81" font-size="6.7" textLength="10.30" lengthAdjust="spacingAndGlyphs">100</text>
<text x="61.60" y="420.11" font-size="6.7" textLength="7.20" lengthAdjust="spacingAndGlyphs">75</text>
<text x="61.60" y="433.41" font-size="6.7" textLength="7.20" lengthAdjust="spacingAndGlyphs">50</text>
<text x="11.20" y="407.61" font-size="7.3" textLength="40.50" lengthAdjust="spacingAndGlyphs">Cutting force</text>
<text x="69.30" y="452.51" font-size="6.7" textLength="8.20" lengthAdjust="spacingAndGlyphs">0.1</text>
<text x="102.60" y="457.71" font-size="6.7" textLength="8.90" lengthAdjust="spacingAndGlyphs">0.2</text>
<text x="135.80" y="462.71" font-size="6.7" textLength="9.20" lengthAdjust="spacingAndGlyphs">0.3</text>
<text x="93.80" y="470.21" font-size="7.3" textLength="28.90" lengthAdjust="spacingAndGlyphs">Feed rate</text>
<text x="183.30" y="460.41" font-size="6.7" textLength="13.00" lengthAdjust="spacingAndGlyphs">0.50</text>
<text x="201.30" y="442.41" font-size="6.7" textLength="13.00" lengthAdjust="spacingAndGlyphs">0.75</text>
<text x="219.90" y="425.81" font-size="6.7" textLength="12.40" lengthAdjust="spacingAndGlyphs">1.00</text>
<text x="221.50" y="448.91" font-size="7.3" textLength="38.00" lengthAdjust="spacingAndGlyphs">Depth of cut</text>
<text x="60.00" y="484.94" font-size="8.9" textLength="150.30" lengthAdjust="spacingAndGlyphs">Hold value (Cutting speed = 100 m/min)</text>
<path d="M352.40 57.00 L393.30 16.70 M393.30 16.70 L487.40 31.60 M487.40 31.60 L488.40 92.40 M393.30 16.70 L394.00 76.50 M394.00 76.50 L488.40 92.40 M394.00 76.50 L353.20 116.60" fill="none" stroke="#b0b0b0" stroke-width="1"/><path d="M488.40 92.40 L448.70 132.80 M448.70 132.80 L353.20 116.60 M353.20 116.60 L352.40 57.00" fill="none" stroke="#3c3c3c" stroke-width="1"/><path d="M350.44 59.80 L352.44 59.80 M350.69 78.40 L352.69 78.40 M350.94 97.20 L352.94 97.20 M351.19 115.80 L353.19 115.80 M358.50 117.50 L357.07 118.90 M401.20 124.74 L399.77 126.14 M443.00 131.83 L441.57 133.24 M449.88 131.60 L451.85 131.93 M463.64 117.60 L465.61 117.93 M477.49 103.50 L479.46 103.83" fill="none" stroke="#4a4a4a" stroke-width="0.9"/>
<path d="M362.00 109.00 L368.96 110.89 L375.92 112.68 L382.88 114.35 L389.83 115.91 L396.79 117.36 L403.75 118.70 L410.71 119.93 L417.67 121.04 L424.62 122.05 L431.58 122.94 L438.54 123.73 L445.50 124.40 L448.36 118.09 L451.22 111.72 L454.07 105.30 L456.93 98.82 L459.79 92.29 L462.65 85.70 L465.51 79.06 L468.37 72.36 L471.23 65.60 L474.08 58.79 L476.94 51.92 L479.80 45.00 L472.82 43.79 L465.85 42.48 L458.88 41.05 L451.90 39.51 L444.93 37.86 L437.95 36.10 L430.98 34.23 L424.00 32.24 L417.03 30.15 L410.05 27.94 L403.08 25.63 L396.10 23.20 L393.26 31.02 L390.42 38.72 L387.58 46.30 L384.73 53.76 L381.89 61.09 L379.05 68.30 L376.21 75.39 L373.37 82.36 L370.52 89.20 L367.68 95.92 L364.84 102.52Z" fill="#fff" stroke="none"/><path d="M362.00 109.00 L364.84 102.52 L367.68 95.92 L370.52 89.20 L373.37 82.36 L376.21 75.39 L379.05 68.30 L381.89 61.09 L384.73 53.76 L387.58 46.30 L390.42 38.72 L393.26 31.02 L396.10 23.20 M362.00 109.00 L368.96 110.89 L375.92 112.68 L382.88 114.35 L389.83 115.91 L396.79 117.36 L403.75 118.70 L410.71 119.93 L417.67 121.04 L424.62 122.05 L431.58 122.94 L438.54 123.73 L445.50 124.40 M367.57 110.52 L370.41 104.06 L373.25 97.47 L376.09 90.77 L378.94 83.95 L381.78 77.01 L384.62 69.96 L387.47 62.78 L390.31 55.49 L393.15 48.08 L395.99 40.56 L398.84 32.91 L401.68 25.15 M364.27 103.83 L371.23 105.73 L378.19 107.53 L385.15 109.21 L392.11 110.78 L399.07 112.24 L406.03 113.59 L412.99 114.83 L419.95 115.96 L426.91 116.97 L433.87 117.88 L440.83 118.67 L447.79 119.36 M373.13 111.98 L375.98 105.52 L378.82 98.95 L381.67 92.27 L384.51 85.48 L387.35 78.57 L390.20 71.54 L393.04 64.41 L395.88 57.16 L398.73 49.80 L401.57 42.32 L404.42 34.73 L407.26 27.03 M366.55 98.58 L373.51 100.50 L380.47 102.30 L387.43 104.00 L394.39 105.59 L401.35 107.06 L408.31 108.43 L415.27 109.68 L422.23 110.82 L429.19 111.85 L436.15 112.77 L443.11 113.58 L450.07 114.28 M378.70 113.36 L381.55 106.92 L384.39 100.36 L387.24 93.70 L390.08 86.93 L392.93 80.05 L395.77 73.06 L398.62 65.96 L401.46 58.76 L404.31 51.44 L407.15 44.02 L410.00 36.48 L412.84 28.84 M368.82 93.25 L375.78 95.19 L382.74 97.01 L389.71 98.73 L396.67 100.33 L403.63 101.82 L410.59 103.20 L417.55 104.47 L424.51 105.63 L431.48 106.68 L438.44 107.62 L445.40 108.45 L452.36 109.16 M384.27 114.67 L387.11 108.24 L389.96 101.70 L392.81 95.06 L395.65 88.31 L398.50 81.46 L401.34 74.50 L404.19 67.44 L407.04 60.28 L409.88 53.01 L412.73 45.64 L415.57 38.16 L418.42 30.58 M371.09 87.84 L378.06 89.80 L385.02 91.65 L391.98 93.38 L398.94 95.01 L405.91 96.52 L412.87 97.92 L419.83 99.22 L426.80 100.40 L433.76 101.47 L440.72 102.43 L447.68 103.27 L454.65 104.01 M389.83 115.91 L392.68 109.49 L395.53 102.97 L398.38 96.34 L401.22 89.62 L404.07 82.80 L406.92 75.88 L409.76 68.86 L412.61 61.73 L415.46 54.51 L418.31 47.19 L421.15 39.77 L424.00 32.24 M373.37 82.36 L380.33 84.34 L387.29 86.21 L394.26 87.97 L401.22 89.62 L408.19 91.16 L415.15 92.59 L422.11 93.91 L429.08 95.11 L436.04 96.21 L443.01 97.19 L449.97 98.06 L456.93 98.82 M395.40 117.08 L398.25 110.67 L401.10 104.16 L403.94 97.56 L406.79 90.86 L409.64 84.07 L412.49 77.18 L415.34 70.20 L418.19 63.12 L421.04 55.94 L423.88 48.67 L426.73 41.30 L429.58 33.84 M375.64 76.79 L382.61 78.80 L389.57 80.70 L396.54 82.49 L403.50 84.17 L410.47 85.74 L417.43 87.20 L424.39 88.54 L431.36 89.78 L438.33 90.90 L445.29 91.91 L452.25 92.81 L459.22 93.60 M400.97 118.18 L403.82 111.78 L406.67 105.29 L409.52 98.70 L412.36 92.03 L415.21 85.27 L418.06 78.41 L420.91 71.46 L423.76 64.43 L426.61 57.30 L429.46 50.08 L432.31 42.77 L435.16 35.36 M377.91 71.15 L384.88 73.19 L391.85 75.13 L398.81 76.95 L405.78 78.66 L412.74 80.26 L419.71 81.75 L426.68 83.12 L433.64 84.39 L440.61 85.54 L447.57 86.59 L454.54 87.52 L461.51 88.34 M406.53 119.20 L409.38 112.82 L412.23 106.34 L415.09 99.78 L417.94 93.13 L420.79 86.39 L423.64 79.57 L426.49 72.66 L429.34 65.67 L432.19 58.58 L435.04 51.42 L437.89 44.16 L440.74 36.82 M380.19 65.43 L387.15 67.51 L394.12 69.48 L401.09 71.33 L408.06 73.08 L415.02 74.72 L421.99 76.24 L428.96 77.65 L435.92 78.95 L442.89 80.14 L449.86 81.22 L456.83 82.19 L463.79 83.05 M412.10 120.16 L414.95 113.78 L417.80 107.32 L420.66 100.78 L423.51 94.16 L426.36 87.45 L429.21 80.66 L432.06 73.79 L434.91 66.84 L437.77 59.80 L440.62 52.68 L443.47 45.48 L446.32 38.20 M382.46 59.63 L389.43 61.75 L396.40 63.76 L403.37 65.65 L410.33 67.44 L417.30 69.11 L424.27 70.68 L431.24 72.13 L438.21 73.47 L445.18 74.70 L452.14 75.82 L459.11 76.82 L466.08 77.72 M417.67 121.04 L420.52 114.68 L423.37 108.23 L426.23 101.71 L429.08 95.11 L431.93 88.43 L434.78 81.68 L437.64 74.84 L440.49 67.93 L443.34 60.94 L446.19 53.88 L449.05 46.73 L451.90 39.51 M384.73 53.76 L391.70 55.92 L398.67 57.97 L405.64 59.91 L412.61 61.73 L419.58 63.45 L426.55 65.06 L433.52 66.55 L440.49 67.93 L447.46 69.21 L454.43 70.37 L461.40 71.42 L468.37 72.36 M423.23 121.86 L426.09 115.50 L428.94 109.07 L431.80 102.57 L434.65 96.00 L437.50 89.35 L440.36 82.62 L443.21 75.83 L446.06 68.96 L448.92 62.02 L451.77 55.00 L454.63 47.91 L457.48 40.75 M387.01 47.80 L393.98 50.01 L400.95 52.10 L407.92 54.09 L414.89 55.96 L421.86 57.73 L428.83 59.38 L435.80 60.92 L442.77 62.35 L449.74 63.67 L456.71 64.87 L463.68 65.97 L470.65 66.96 M428.80 122.60 L431.66 116.26 L434.51 109.84 L437.37 103.36 L440.22 96.81 L443.07 90.19 L445.93 83.50 L448.79 76.74 L451.64 69.92 L454.50 63.02 L457.35 56.06 L460.21 49.02 L463.06 41.92 M389.28 41.77 L396.25 44.03 L403.22 46.17 L410.20 48.21 L417.17 50.13 L424.14 51.94 L431.11 53.64 L438.08 55.23 L445.05 56.71 L452.03 58.08 L459.00 59.34 L465.97 60.49 L472.94 61.52 M434.37 123.27 L437.22 116.94 L440.08 110.54 L442.94 104.08 L445.79 97.55 L448.65 90.96 L451.50 84.30 L454.36 77.58 L457.22 70.80 L460.07 63.95 L462.93 57.04 L465.78 50.06 L468.64 43.02 M391.55 35.66 L398.53 37.97 L405.50 40.17 L412.47 42.25 L419.44 44.23 L426.42 46.10 L433.39 47.85 L440.36 49.50 L447.34 51.03 L454.31 52.45 L461.28 53.76 L468.25 54.96 L475.23 56.05 M439.93 123.87 L442.79 117.55 L445.65 111.17 L448.50 104.72 L451.36 98.22 L454.22 91.66 L457.08 85.04 L459.93 78.36 L462.79 71.61 L465.65 64.81 L468.51 57.95 L471.36 51.03 L474.22 44.04 M393.83 29.47 L400.80 31.83 L407.77 34.09 L414.75 36.24 L421.72 38.27 L428.70 40.19 L435.67 42.00 L442.64 43.71 L449.62 45.30 L456.59 46.77 L463.57 48.14 L470.54 49.40 L477.51 50.54 M445.50 124.40 L448.36 118.09 L451.22 111.72 L454.07 105.30 L456.93 98.82 L459.79 92.29 L462.65 85.70 L465.51 79.06 L468.37 72.36 L471.23 65.60 L474.08 58.79 L476.94 51.92 L479.80 45.00 M396.10 23.20 L403.08 25.63 L410.05 27.94 L417.03 30.15 L424.00 32.24 L430.98 34.23 L437.95 36.10 L444.93 37.86 L451.90 39.51 L458.88 41.05 L465.85 42.48 L472.82 43.79 L479.80 45.00" fill="none" stroke="#333333" stroke-width="0.9"/>
<text x="281.40" y="22.96" font-size="13.2" textLength="16.00" lengthAdjust="spacingAndGlyphs">(b)</text>
<text x="340.70" y="59.28" font-size="6.3" textLength="2.90" lengthAdjust="spacingAndGlyphs">4</text>
<text x="340.70" y="77.88" font-size="6.3" textLength="2.90" lengthAdjust="spacingAndGlyphs">3</text>
<text x="340.70" y="96.68" font-size="6.3" textLength="2.90" lengthAdjust="spacingAndGlyphs">2</text>
<text x="340.60" y="115.48" font-size="6.8999999999999995" textLength="3.00" lengthAdjust="spacingAndGlyphs">1</text>
<text x="278.60" y="81.58" font-size="7.2" textLength="56.60" lengthAdjust="spacingAndGlyphs">Surface roughness</text>
<text x="348.70" y="127.18" font-size="6.6" textLength="6.60" lengthAdjust="spacingAndGlyphs">50</text>
<text x="390.00" y="134.08" font-size="6.6" textLength="9.40" lengthAdjust="spacingAndGlyphs">100</text>
<text x="431.50" y="140.18" font-size="6.6" textLength="10.00" lengthAdjust="spacingAndGlyphs">150</text>
<text x="360.70" y="145.74" font-size="7.4" textLength="42.30" lengthAdjust="spacingAndGlyphs">Cutting speed</text>
<text x="457.70" y="135.78" font-size="6.6" textLength="9.50" lengthAdjust="spacingAndGlyphs">0.1</text>
<text x="471.40" y="121.78" font-size="6.6" textLength="9.90" lengthAdjust="spacingAndGlyphs">0.2</text>
<text x="486.20" y="107.68" font-size="6.6" textLength="9.10" lengthAdjust="spacingAndGlyphs">0.3</text>
<text x="493.70" y="121.04" font-size="7.4" textLength="29.10" lengthAdjust="spacingAndGlyphs">Feed rate</text>
<text x="324.00" y="166.94" font-size="8.9" textLength="141.00" lengthAdjust="spacingAndGlyphs">Hold value (Depth of cut =&#160; 0.75 mm)</text>
<path d="M352.10 218.30 L392.60 178.00 M392.60 178.00 L486.60 192.50 M486.60 192.50 L488.20 254.00 M392.60 178.00 L393.50 238.50 M393.50 238.50 L488.20 254.00 M393.50 238.50 L353.80 279.00" fill="none" stroke="#b0b0b0" stroke-width="1"/><path d="M488.20 254.00 L447.70 294.20 M447.70 294.20 L353.80 279.00 M353.80 279.00 L352.10 218.30" fill="none" stroke="#3c3c3c" stroke-width="1"/><path d="M350.39 228.60 L352.39 228.60 M350.77 242.20 L352.77 242.20 M351.13 255.00 L353.13 255.00 M351.50 268.20 L353.50 268.20 M358.00 279.68 L356.60 281.11 M400.80 286.61 L399.40 288.04 M442.30 293.33 L440.90 294.75 M450.82 291.10 L452.80 291.42 M469.06 273.00 L471.03 273.32 M486.19 256.00 L488.16 256.32" fill="none" stroke="#4a4a4a" stroke-width="0.9"/>
<path d="M360.40 252.80 L367.46 257.50 L374.52 261.87 L381.57 265.90 L388.63 269.60 L395.69 272.97 L402.75 276.00 L409.81 278.70 L416.87 281.07 L423.93 283.10 L430.98 284.80 L438.04 286.17 L445.10 287.20 L448.00 281.53 L450.90 275.74 L453.80 269.85 L456.70 263.84 L459.60 257.73 L462.50 251.50 L465.40 245.16 L468.30 238.71 L471.20 232.15 L474.10 225.48 L477.00 218.69 L479.90 211.80 L472.87 211.41 L465.83 210.67 L458.80 209.58 L451.77 208.13 L444.73 206.34 L437.70 204.20 L430.67 201.71 L423.63 198.87 L416.60 195.68 L409.57 192.13 L402.53 188.24 L395.50 184.00 L392.57 190.34 L389.65 196.58 L386.73 202.70 L383.80 208.71 L380.88 214.61 L377.95 220.40 L375.02 226.08 L372.10 231.64 L369.17 237.10 L366.25 242.44 L363.32 247.68Z" fill="#fff" stroke="none"/><path d="M360.40 252.80 L363.32 247.68 L366.25 242.44 L369.17 237.10 L372.10 231.64 L375.02 226.08 L377.95 220.40 L380.88 214.61 L383.80 208.71 L386.73 202.70 L389.65 196.58 L392.57 190.34 L395.50 184.00 M360.40 252.80 L367.46 257.50 L374.52 261.87 L381.57 265.90 L388.63 269.60 L395.69 272.97 L402.75 276.00 L409.81 278.70 L416.87 281.07 L423.93 283.10 L430.98 284.80 L438.04 286.17 L445.10 287.20 M366.05 256.59 L368.97 251.43 L371.89 246.17 L374.82 240.80 L377.74 235.31 L380.66 229.71 L383.59 224.00 L386.51 218.18 L389.43 212.25 L392.36 206.21 L395.28 200.06 L398.20 193.80 L401.13 187.42 M362.74 248.71 L369.80 253.38 L376.85 257.72 L383.91 261.72 L390.97 265.38 L398.02 268.71 L405.08 271.71 L412.14 274.37 L419.19 276.70 L426.25 278.70 L433.31 280.36 L440.36 281.68 L447.42 282.67 M371.69 260.16 L374.61 254.98 L377.54 249.68 L380.46 244.27 L383.38 238.76 L386.30 233.13 L389.22 227.39 L392.15 221.54 L395.07 215.58 L397.99 209.50 L400.91 203.32 L403.83 197.02 L406.75 190.62 M365.08 244.55 L372.13 249.19 L379.19 253.49 L386.25 257.46 L393.30 261.09 L400.36 264.39 L407.41 267.35 L414.47 269.98 L421.52 272.27 L428.57 274.22 L435.63 275.84 L442.69 277.12 L449.74 278.07 M377.34 263.52 L380.26 258.30 L383.18 252.98 L386.10 247.54 L389.02 241.99 L391.94 236.33 L394.86 230.56 L397.78 224.67 L400.70 218.68 L403.62 212.57 L406.54 206.36 L409.46 200.03 L412.38 193.59 M367.42 240.32 L374.47 244.93 L381.53 249.20 L388.58 253.14 L395.63 256.73 L402.69 260.00 L409.74 262.92 L416.79 265.51 L423.85 267.76 L430.90 269.68 L437.95 271.25 L445.01 272.50 L452.06 273.40 M382.99 266.67 L385.90 261.42 L388.82 256.06 L391.74 250.59 L394.66 245.00 L397.58 239.31 L400.50 233.50 L403.42 227.59 L406.33 221.56 L409.25 215.42 L412.17 209.17 L415.09 202.81 L418.01 196.34 M369.76 236.02 L376.81 240.60 L383.86 244.84 L390.92 248.74 L397.97 252.30 L405.02 255.53 L412.07 258.42 L419.12 260.97 L426.17 263.18 L433.23 265.06 L440.28 266.60 L447.33 267.80 L454.38 268.66 M388.63 269.60 L391.55 264.32 L394.47 258.92 L397.38 253.42 L400.30 247.80 L403.22 242.07 L406.13 236.23 L409.05 230.28 L411.97 224.22 L414.88 218.05 L417.80 211.77 L420.72 205.37 L423.63 198.87 M372.10 231.64 L379.15 236.19 L386.20 240.40 L393.25 244.27 L400.30 247.80 L407.35 250.99 L414.40 253.84 L421.45 256.36 L428.50 258.53 L435.55 260.37 L442.60 261.87 L449.65 263.02 L456.70 263.84 M394.28 272.32 L397.19 267.00 L400.11 261.57 L403.03 256.03 L405.94 250.38 L408.85 244.62 L411.77 238.74 L414.69 232.76 L417.60 226.66 L420.51 220.46 L423.43 214.14 L426.35 207.71 L429.26 201.17 M374.44 227.20 L381.49 231.72 L388.54 235.89 L395.59 239.73 L402.63 243.23 L409.68 246.38 L416.73 249.20 L423.78 251.68 L430.83 253.81 L437.88 255.61 L444.92 257.07 L451.97 258.18 L459.02 258.96 M399.93 274.83 L402.84 269.47 L405.75 264.01 L408.67 258.43 L411.58 252.74 L414.49 246.95 L417.41 241.04 L420.32 235.02 L423.23 228.88 L426.15 222.64 L429.06 216.29 L431.97 209.82 L434.89 203.25 M376.78 222.68 L383.83 227.17 L390.87 231.32 L397.92 235.12 L404.97 238.58 L412.01 241.70 L419.06 244.48 L426.11 246.92 L433.15 249.02 L440.20 250.78 L447.25 252.20 L454.29 253.27 L461.34 254.00 M405.57 277.12 L408.49 271.73 L411.40 266.23 L414.31 260.61 L417.22 254.89 L420.13 249.06 L423.04 243.11 L425.95 237.05 L428.87 230.88 L431.78 224.60 L434.69 218.21 L437.60 211.71 L440.51 205.10 M379.12 218.10 L386.16 222.55 L393.21 226.67 L400.25 230.44 L407.30 233.87 L414.34 236.95 L421.39 239.70 L428.44 242.10 L435.48 244.16 L442.52 245.88 L449.57 247.25 L456.62 248.29 L463.66 248.98 M411.22 279.20 L414.13 273.77 L417.04 268.23 L419.95 262.58 L422.86 256.82 L425.77 250.95 L428.68 244.96 L431.59 238.87 L434.50 232.66 L437.41 226.35 L440.32 219.92 L443.23 213.38 L446.14 206.73 M381.46 213.44 L388.50 217.86 L395.55 221.95 L402.59 225.69 L409.63 229.08 L416.68 232.13 L423.72 234.84 L430.76 237.20 L437.81 239.23 L444.85 240.90 L451.89 242.24 L458.94 243.23 L465.98 243.88 M416.87 281.07 L419.77 275.60 L422.68 270.02 L425.59 264.33 L428.50 258.53 L431.41 252.62 L434.32 246.60 L437.22 240.47 L440.13 234.22 L443.04 227.87 L445.95 221.40 L448.86 214.82 L451.77 208.13 M383.80 208.71 L390.84 213.11 L397.88 217.16 L404.92 220.86 L411.97 224.22 L419.01 227.24 L426.05 229.91 L433.09 232.24 L440.13 234.22 L447.17 235.86 L454.22 237.16 L461.26 238.11 L468.30 238.71 M422.51 282.72 L425.42 277.21 L428.33 271.60 L431.23 265.87 L434.14 260.03 L437.05 254.08 L439.95 248.02 L442.86 241.84 L445.77 235.56 L448.67 229.17 L451.58 222.66 L454.49 216.04 L457.39 209.31 M386.14 203.91 L393.18 208.28 L400.22 212.29 L407.26 215.97 L414.30 219.29 L421.34 222.28 L428.38 224.91 L435.42 227.20 L442.46 229.15 L449.50 230.75 L456.54 232.00 L463.58 232.91 L470.62 233.47 M428.16 284.16 L431.06 278.61 L433.97 272.96 L436.88 267.19 L439.78 261.31 L442.68 255.32 L445.59 249.22 L448.50 243.00 L451.40 236.68 L454.31 230.24 L457.21 223.70 L460.12 217.04 L463.02 210.27 M388.48 199.04 L395.52 203.37 L402.56 207.36 L409.60 211.00 L416.63 214.29 L423.67 217.24 L430.71 219.84 L437.75 222.09 L444.79 224.00 L451.83 225.56 L458.86 226.77 L465.90 227.64 L472.94 228.16 M433.81 285.39 L436.71 279.80 L439.61 274.10 L442.52 268.29 L445.42 262.37 L448.32 256.34 L451.23 250.20 L454.13 243.94 L457.03 237.58 L459.94 231.10 L462.84 224.51 L465.74 217.81 L468.65 211.01 M390.82 194.10 L397.86 198.40 L404.89 202.36 L411.93 205.96 L418.97 209.22 L426.00 212.13 L433.04 214.70 L440.08 216.91 L447.11 218.78 L454.15 220.30 L461.19 221.48 L468.22 222.30 L475.26 222.78 M439.45 286.40 L442.36 280.77 L445.26 275.03 L448.16 269.18 L451.06 263.22 L453.96 257.14 L456.86 250.96 L459.76 244.66 L462.67 238.25 L465.57 231.74 L468.47 225.11 L471.37 218.37 L474.27 211.51 M393.16 189.08 L400.19 193.36 L407.23 197.28 L414.26 200.85 L421.30 204.08 L428.33 206.96 L435.37 209.48 L442.40 211.66 L449.44 213.49 L456.47 214.97 L463.51 216.11 L470.54 216.89 L477.58 217.32 M445.10 287.20 L448.00 281.53 L450.90 275.74 L453.80 269.85 L456.70 263.84 L459.60 257.73 L462.50 251.50 L465.40 245.16 L468.30 238.71 L471.20 232.15 L474.10 225.48 L477.00 218.69 L479.90 211.80 M395.50 184.00 L402.53 188.24 L409.57 192.13 L416.60 195.68 L423.63 198.87 L430.67 201.71 L437.70 204.20 L444.73 206.34 L451.77 208.13 L458.80 209.58 L465.83 210.67 L472.87 211.41 L479.90 211.80" fill="none" stroke="#333333" stroke-width="0.9"/>
<text x="334.00" y="228.05" font-size="6.2" textLength="8.60" lengthAdjust="spacingAndGlyphs">3.0</text>
<text x="334.00" y="241.65" font-size="6.2" textLength="8.60" lengthAdjust="spacingAndGlyphs">2.8</text>
<text x="334.00" y="254.45" font-size="6.2" textLength="8.60" lengthAdjust="spacingAndGlyphs">2.6</text>
<text x="334.00" y="267.65" font-size="6.2" textLength="8.60" lengthAdjust="spacingAndGlyphs">2.4</text>
<text x="276.80" y="241.81" font-size="6.7" textLength="51.30" lengthAdjust="spacingAndGlyphs">Surface roughness</text>
<text x="348.00" y="287.65" font-size="6.2" textLength="7.00" lengthAdjust="spacingAndGlyphs">50</text>
<text x="389.60" y="293.85" font-size="6.2" textLength="9.40" lengthAdjust="spacingAndGlyphs">100</text>
<text x="431.00" y="300.85" font-size="6.2" textLength="9.60" lengthAdjust="spacingAndGlyphs">150</text>
<text x="363.40" y="305.11" font-size="6.7" textLength="37.00" lengthAdjust="spacingAndGlyphs">Cutting speed</text>
<text x="458.20" y="295.15" font-size="6.2" textLength="12.20" lengthAdjust="spacingAndGlyphs">0.50</text>
<text x="476.40" y="277.05" font-size="6.2" textLength="12.10" lengthAdjust="spacingAndGlyphs">0.75</text>
<text x="494.50" y="260.05" font-size="6.2" textLength="12.20" lengthAdjust="spacingAndGlyphs">1.00</text>
<text x="497.60" y="283.11" font-size="6.7" textLength="32.70" lengthAdjust="spacingAndGlyphs">Depth of cut</text>
<text x="328.90" y="327.74" font-size="8.9" textLength="145.60" lengthAdjust="spacingAndGlyphs">Hold value (Feed rate =&#160; 0.24 mm/rev.)</text>
<path d="M353.30 380.80 L393.60 341.60 M393.60 341.60 L488.10 356.30 M488.10 356.30 L489.00 418.20 M393.60 341.60 L395.50 403.50 M395.50 403.50 L489.00 418.20 M395.50 403.50 L355.20 442.70" fill="none" stroke="#b0b0b0" stroke-width="1"/><path d="M489.00 418.20 L448.70 457.30 M448.70 457.30 L355.20 442.70 M355.20 442.70 L353.30 380.80" fill="none" stroke="#3c3c3c" stroke-width="1"/><path d="M351.38 383.50 L353.38 383.50 M351.93 401.30 L353.93 401.30 M352.48 419.30 L354.48 419.30 M353.00 436.30 L355.00 436.30 M356.00 442.82 L354.57 444.22 M389.80 448.10 L388.37 449.50 M423.10 453.30 L421.67 454.70 M451.07 455.00 L453.05 455.31 M469.73 436.90 L471.70 437.21 M487.66 419.50 L489.64 419.81" fill="none" stroke="#4a4a4a" stroke-width="0.9"/>
<path d="M365.70 438.00 L372.34 434.05 L378.98 430.37 L385.62 426.95 L392.27 423.80 L398.91 420.92 L405.55 418.30 L412.19 415.95 L418.83 413.87 L425.47 412.05 L432.12 410.50 L438.76 409.22 L445.40 408.20 L448.33 404.23 L451.27 400.25 L454.20 396.28 L457.13 392.30 L460.07 388.32 L463.00 384.35 L465.93 380.38 L468.87 376.40 L471.80 372.43 L474.73 368.45 L477.67 364.48 L480.60 360.50 L473.93 362.00 L467.25 363.75 L460.58 365.75 L453.90 368.00 L447.23 370.50 L440.55 373.25 L433.88 376.25 L427.20 379.50 L420.52 383.00 L413.85 386.75 L407.18 390.75 L400.50 395.00 L397.60 398.95 L394.70 402.83 L391.80 406.65 L388.90 410.40 L386.00 414.08 L383.10 417.70 L380.20 421.25 L377.30 424.73 L374.40 428.15 L371.50 431.50 L368.60 434.78Z" fill="#fff" stroke="none"/><path d="M365.70 438.00 L368.60 434.78 L371.50 431.50 L374.40 428.15 L377.30 424.73 L380.20 421.25 L383.10 417.70 L386.00 414.08 L388.90 410.40 L391.80 406.65 L394.70 402.83 L397.60 398.95 L400.50 395.00 M365.70 438.00 L372.34 434.05 L378.98 430.37 L385.62 426.95 L392.27 423.80 L398.91 420.92 L405.55 418.30 L412.19 415.95 L418.83 413.87 L425.47 412.05 L432.12 410.50 L438.76 409.22 L445.40 408.20 M371.01 434.82 L373.92 431.56 L376.82 428.23 L379.72 424.85 L382.62 421.40 L385.52 417.89 L388.43 414.32 L391.33 410.69 L394.23 406.99 L397.13 403.23 L400.04 399.41 L402.94 395.53 L405.84 391.58 M368.02 435.43 L374.66 431.44 L381.31 427.71 L387.95 424.24 L394.60 421.05 L401.24 418.11 L407.88 415.45 L414.53 413.04 L421.17 410.91 L427.81 409.04 L434.46 407.43 L441.10 406.09 L447.75 405.02 M376.33 431.81 L379.23 428.50 L382.14 425.14 L385.04 421.72 L387.94 418.24 L390.85 414.70 L393.75 411.10 L396.66 407.45 L399.56 403.74 L402.47 399.97 L405.37 396.15 L408.28 392.26 L411.18 388.32 M370.34 432.82 L376.99 428.79 L383.63 425.01 L390.28 421.51 L396.92 418.26 L403.57 415.28 L410.22 412.57 L416.86 410.12 L423.51 407.94 L430.16 406.02 L436.80 404.36 L443.45 402.97 L450.09 401.84 M381.64 428.97 L384.55 425.62 L387.45 422.21 L390.36 418.75 L393.27 415.24 L396.17 411.67 L399.08 408.05 L401.99 404.38 L404.89 400.66 L407.80 396.88 L410.71 393.04 L413.61 389.16 L416.52 385.22 M372.66 430.17 L379.31 426.09 L385.96 422.28 L392.60 418.74 L399.25 415.45 L405.90 412.43 L412.55 409.67 L419.20 407.18 L425.85 404.95 L432.50 402.98 L439.14 401.28 L445.79 399.84 L452.44 398.66 M386.95 426.30 L389.86 422.90 L392.77 419.45 L395.68 415.95 L398.59 412.41 L401.50 408.81 L404.41 405.17 L407.32 401.48 L410.22 397.74 L413.13 393.94 L416.04 390.11 L418.95 386.22 L421.86 382.28 M374.98 427.47 L381.63 423.36 L388.28 419.52 L394.93 415.93 L401.58 412.61 L408.23 409.55 L414.88 406.76 L421.53 404.22 L428.18 401.95 L434.83 399.94 L441.49 398.19 L448.14 396.70 L454.79 395.48 M392.27 423.80 L395.18 420.35 L398.09 416.86 L401.00 413.33 L403.91 409.74 L406.82 406.12 L409.73 402.45 L412.64 398.74 L415.56 394.98 L418.47 391.17 L421.38 387.33 L424.29 383.44 L427.20 379.50 M377.30 424.73 L383.95 420.59 L390.61 416.72 L397.26 413.10 L403.91 409.74 L410.56 406.65 L417.22 403.82 L423.87 401.24 L430.52 398.93 L437.17 396.88 L443.83 395.09 L450.48 393.57 L457.13 392.30 M397.58 421.47 L400.49 417.98 L403.41 414.44 L406.32 410.86 L409.23 407.25 L412.15 403.59 L415.06 399.90 L417.97 396.16 L420.89 392.38 L423.80 388.57 L426.71 384.71 L429.63 380.82 L432.54 376.88 M379.62 421.95 L386.27 417.79 L392.93 413.88 L399.58 410.23 L406.24 406.85 L412.89 403.72 L419.55 400.86 L426.21 398.25 L432.86 395.90 L439.52 393.82 L446.17 391.99 L452.83 390.43 L459.48 389.12 M402.89 419.31 L405.81 415.77 L408.72 412.19 L411.64 408.57 L414.56 404.92 L417.47 401.23 L420.39 397.51 L423.30 393.75 L426.22 389.95 L429.13 386.12 L432.05 382.26 L434.96 378.36 L437.88 374.42 M381.94 419.13 L388.60 414.94 L395.25 411.01 L401.91 407.34 L408.57 403.92 L415.23 400.77 L421.88 397.87 L428.54 395.24 L435.20 392.86 L441.86 390.74 L448.51 388.88 L455.17 387.28 L461.83 385.94 M408.21 417.33 L411.12 413.73 L414.04 410.10 L416.96 406.45 L419.88 402.76 L422.80 399.04 L425.71 395.28 L428.63 391.50 L431.55 387.69 L434.47 383.84 L437.38 379.97 L440.30 376.06 L443.22 372.12 M384.26 416.26 L390.92 412.05 L397.58 408.10 L404.24 404.41 L410.90 400.97 L417.56 397.79 L424.22 394.87 L430.88 392.21 L437.54 389.80 L444.19 387.66 L450.85 385.77 L457.51 384.13 L464.17 382.76 M413.52 415.51 L416.44 411.86 L419.36 408.19 L422.28 404.49 L425.20 400.76 L428.12 397.01 L431.04 393.23 L433.96 389.42 L436.88 385.58 L439.80 381.72 L442.72 377.84 L445.64 373.92 L448.56 369.98 M386.58 413.35 L393.24 409.13 L399.90 405.16 L406.56 401.44 L413.23 397.99 L419.89 394.79 L426.55 391.85 L433.21 389.16 L439.87 386.73 L446.53 384.56 L453.20 382.64 L459.86 380.98 L466.52 379.58 M418.83 413.87 L421.76 410.17 L424.68 406.44 L427.60 402.70 L430.52 398.93 L433.44 395.14 L436.37 391.33 L439.29 387.50 L442.21 383.64 L445.13 379.77 L448.06 375.87 L450.98 371.94 L453.90 368.00 M388.90 410.40 L395.56 406.16 L402.23 402.18 L408.89 398.45 L415.56 394.98 L422.22 391.76 L428.88 388.80 L435.55 386.09 L442.21 383.64 L448.88 381.45 L455.54 379.51 L462.20 377.83 L468.87 376.40 M424.15 412.39 L427.07 408.64 L430.00 404.87 L432.92 401.08 L435.84 397.27 L438.77 393.45 L441.69 389.61 L444.62 385.75 L447.54 381.87 L450.47 377.97 L453.39 374.06 L456.32 370.13 L459.24 366.18 M391.22 407.41 L397.89 403.16 L404.55 399.16 L411.22 395.42 L417.88 391.94 L424.55 388.71 L431.22 385.73 L437.88 383.01 L444.55 380.54 L451.21 378.33 L457.88 376.37 L464.55 374.67 L471.21 373.22 M429.46 411.09 L432.39 407.28 L435.31 403.46 L438.24 399.63 L441.17 395.78 L444.09 391.92 L447.02 388.04 L449.95 384.16 L452.87 380.26 L455.80 376.34 L458.73 372.41 L461.65 368.47 L464.58 364.52 M393.54 404.37 L400.21 400.11 L406.88 396.11 L413.55 392.37 L420.21 388.87 L426.88 385.63 L433.55 382.64 L440.22 379.91 L446.89 377.43 L453.56 375.20 L460.22 373.23 L466.89 371.51 L473.56 370.04 M434.77 409.95 L437.70 406.09 L440.63 402.22 L443.56 398.34 L446.49 394.45 L449.42 390.55 L452.35 386.65 L455.28 382.73 L458.20 378.81 L461.13 374.87 L464.06 370.93 L466.99 366.98 L469.92 363.02 M395.86 401.29 L402.53 397.03 L409.20 393.03 L415.87 389.28 L422.54 385.78 L429.21 382.53 L435.88 379.53 L442.55 376.79 L449.22 374.30 L455.89 372.06 L462.57 370.08 L469.24 368.34 L475.91 366.86 M440.09 408.99 L443.02 405.07 L445.95 401.15 L448.88 397.22 L451.81 393.29 L454.74 389.36 L457.67 385.42 L460.60 381.47 L463.54 377.52 L466.47 373.57 L469.40 369.61 L472.33 365.65 L475.26 361.68 M398.18 398.17 L404.85 393.91 L411.53 389.91 L418.20 386.15 L424.87 382.65 L431.54 379.40 L438.22 376.40 L444.89 373.65 L451.56 371.16 L458.24 368.91 L464.91 366.92 L471.58 365.17 L478.25 363.68 M445.40 408.20 L448.33 404.23 L451.27 400.25 L454.20 396.28 L457.13 392.30 L460.07 388.32 L463.00 384.35 L465.93 380.38 L468.87 376.40 L471.80 372.43 L474.73 368.45 L477.67 364.48 L480.60 360.50 M400.50 395.00 L407.18 390.75 L413.85 386.75 L420.52 383.00 L427.20 379.50 L433.88 376.25 L440.55 373.25 L447.23 370.50 L453.90 368.00 L460.58 365.75 L467.25 363.75 L473.93 362.00 L480.60 360.50" fill="none" stroke="#333333" stroke-width="0.66"/>
<text x="340.70" y="382.98" font-size="6.3" textLength="2.90" lengthAdjust="spacingAndGlyphs">4</text>
<text x="340.70" y="400.78" font-size="6.3" textLength="2.90" lengthAdjust="spacingAndGlyphs">3</text>
<text x="340.70" y="418.78" font-size="6.3" textLength="2.90" lengthAdjust="spacingAndGlyphs">2</text>
<text x="340.60" y="435.98" font-size="6.8999999999999995" textLength="3.00" lengthAdjust="spacingAndGlyphs">1</text>
<text x="279.00" y="405.88" font-size="7.2" textLength="56.80" lengthAdjust="spacingAndGlyphs">Surface roughness</text>
<text x="345.60" y="450.98" font-size="6.6" textLength="7.80" lengthAdjust="spacingAndGlyphs">0.1</text>
<text x="379.00" y="456.28" font-size="6.6" textLength="8.60" lengthAdjust="spacingAndGlyphs">0.2</text>
<text x="412.20" y="461.38" font-size="6.6" textLength="8.80" lengthAdjust="spacingAndGlyphs">0.3</text>
<text x="370.00" y="468.04" font-size="7.4" textLength="28.80" lengthAdjust="spacingAndGlyphs">Feed rate</text>
<text x="459.50" y="459.18" font-size="6.6" textLength="12.50" lengthAdjust="spacingAndGlyphs">0.50</text>
<text x="477.50" y="441.08" font-size="6.6" textLength="12.70" lengthAdjust="spacingAndGlyphs">0.75</text>
<text x="496.00" y="423.68" font-size="6.6" textLength="12.10" lengthAdjust="spacingAndGlyphs">1.00</text>
<text x="497.60" y="446.64" font-size="7.4" textLength="37.60" lengthAdjust="spacingAndGlyphs">Depth of cut</text>
<text x="333.60" y="486.54" font-size="8.9" textLength="151.40" lengthAdjust="spacingAndGlyphs">Hold value (Cutting speed = 100 m/min)</text>
</svg>
</body></html>
